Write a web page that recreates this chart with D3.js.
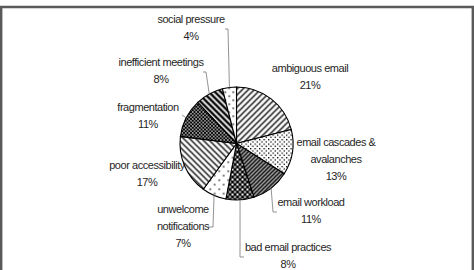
<!DOCTYPE html>
<html>
<head>
<meta charset="utf-8">
<script src="https://cdn.jsdelivr.net/npm/d3@7"></script>
<style>
  html, body { margin: 0; padding: 0; background: #fff; }
  text { font-family: "Liberation Sans", Arial, sans-serif; font-size: 11px; letter-spacing: -0.45px; fill: #262626; }
</style>
</head>
<body>
<svg id="chart" width="474" height="270"></svg>
<script>
const categories = [
  'ambiguous email',
  'email cascades & avalanches',
  'email workload',
  'bad email practices',
  'unwelcome notifications',
  'poor accessibility',
  'fragmentation',
  'inefficient meetings',
  'social pressure'
]
const values = [21, 13, 11, 8, 7, 17, 11, 8, 4]
const percentLabels = ['21%', '13%', '11%', '8%', '7%', '17%', '11%', '8%', '4%']

// label text split into lines, as in the source
const labelLines = [
  ['ambiguous email'],
  ['email cascades &', 'avalanches'],
  ['email workload'],
  ['bad email practices'],
  ['unwelcome', 'notifications'],
  ['poor accessibility'],
  ['fragmentation'],
  ['inefficient meetings'],
  ['social pressure']
]

// layout: label centre x / first baseline y, and leader elbow points (null = no leader)
const labelPos = [
  [310, 72], [336, 146], [311, 206], [288, 251], [183, 213],
  [147, 169], [148, 111], [161, 66], [191, 23]
]
const leaders = [
  null, null,
  [[273, 212], [277, 212]],
  [[240, 257], [244, 257]],
  [[213, 227], [208, 227]],
  null,
  [[182, 115]],
  [[206, 72], [203, 72]],
  [[228, 29], [225, 29]]
]
const patternIds = ['pAmb', 'pCasc', 'pWork', 'pBad', 'pUnw', 'pPoor', 'pFrag', 'pMeet', 'pSoc']

const width = 474
const height = 270
const cx = 236.5
const cy = 143.5
const radius = 56.5
const lineGap = 17

const svg = d3.select('#chart')
const defs = svg.append('defs')

function linePattern (id, size, strokeW, dir) {
  const p = defs.append('pattern')
    .attr('id', id)
    .attr('patternUnits', 'userSpaceOnUse')
    .attr('width', size).attr('height', size)
  p.append('rect').attr('width', size).attr('height', size).attr('fill', '#fff')
  const d = dir === 'up'
    ? `M0,${size} L${size},0 M${-size / 2},${size / 2} L${size / 2},${-size / 2} M${size / 2},${size * 1.5} L${size * 1.5},${size / 2}`
    : `M0,0 L${size},${size} M${-size / 2},${size / 2} L${size / 2},${size * 1.5} M${size / 2},${-size / 2} L${size * 1.5},${size / 2}`
  p.append('path').attr('d', d).attr('stroke', '#000').attr('stroke-width', strokeW)
}

function dotPattern (id, size, r) {
  const p = defs.append('pattern')
    .attr('id', id)
    .attr('patternUnits', 'userSpaceOnUse')
    .attr('width', size).attr('height', size)
  p.append('rect').attr('width', size).attr('height', size).attr('fill', '#fff')
  p.append('rect').attr('x', 0).attr('y', 0).attr('width', r).attr('height', r).attr('fill', '#000')
  p.append('rect').attr('x', size / 2).attr('y', size / 2).attr('width', r).attr('height', r).attr('fill', '#000')
}

linePattern('pAmb', 6, 1.3, 'up')
dotPattern('pCasc', 4.5, 1.3)
linePattern('pWork', 4, 1.9, 'up')

// bad email practices: bold checker dots
const bad = defs.append('pattern')
  .attr('id', 'pBad').attr('patternUnits', 'userSpaceOnUse')
  .attr('width', 5).attr('height', 5)
bad.append('rect').attr('width', 5).attr('height', 5).attr('fill', '#000')
bad.append('rect').attr('x', 0).attr('y', 0).attr('width', 2).attr('height', 2).attr('fill', '#fff')
bad.append('rect').attr('x', 2.5).attr('y', 2.5).attr('width', 2).attr('height', 2).attr('fill', '#fff')

dotPattern('pUnw', 9, 1.4)
linePattern('pPoor', 6, 1.3, 'down')

// fragmentation: fine diagonal crosshatch
const frag = defs.append('pattern')
  .attr('id', 'pFrag').attr('patternUnits', 'userSpaceOnUse')
  .attr('width', 3.5).attr('height', 3.5)
frag.append('rect').attr('width', 3.5).attr('height', 3.5).attr('fill', '#fff')
frag.append('path')
  .attr('d', 'M0,0 L3.5,3.5 M0,3.5 L3.5,0 M-1.75,1.75 L1.75,5.25 M1.75,-1.75 L5.25,1.75 M-1.75,1.75 L1.75,-1.75 M1.75,5.25 L5.25,1.75')
  .attr('stroke', '#000').attr('stroke-width', 1.1)

linePattern('pMeet', 6, 2.4, 'down')
dotPattern('pSoc', 8, 1.4)

// frame
svg.append('path')
  .attr('d', `M1.2,${height} L1.2,7 L${width - 1.2},7 L${width - 1.2},${height}`)
  .attr('fill', 'none')
  .attr('stroke', '#5a5a5a')
  .attr('stroke-width', 2.4)

const pie = d3.pie().sort(null).value(d => d)
const arcs = pie(values)
const arc = d3.arc().innerRadius(0).outerRadius(radius)

const g = svg.append('g').attr('transform', `translate(${cx},${cy})`)

g.selectAll('path.slice')
  .data(arcs)
  .enter()
  .append('path')
  .attr('class', 'slice')
  .attr('d', arc)
  .attr('fill', (d, i) => `url(#${patternIds[i]})`)
  .attr('stroke', '#000')
  .attr('stroke-width', 1.1)

// leader lines from slice edge at mid-angle
arcs.forEach((d, i) => {
  if (!leaders[i]) return
  const mid = (d.startAngle + d.endAngle) / 2
  const start = [cx + radius * Math.sin(mid), cy - radius * Math.cos(mid)]
  const pts = [start].concat(leaders[i])
  svg.append('path')
    .attr('d', d3.line()(pts))
    .attr('fill', 'none')
    .attr('stroke', '#777')
    .attr('stroke-width', 0.8)
})

// labels
categories.forEach((c, i) => {
  const lines = labelLines[i].concat([percentLabels[i]])
  const t = svg.append('text')
    .attr('text-anchor', 'middle')
    .attr('x', labelPos[i][0])
    .attr('y', labelPos[i][1])
  lines.forEach((l, j) => {
    t.append('tspan')
      .attr('x', labelPos[i][0])
      .attr('y', labelPos[i][1] + j * lineGap)
      .text(l)
  })
})
</script>
</body>
</html>
